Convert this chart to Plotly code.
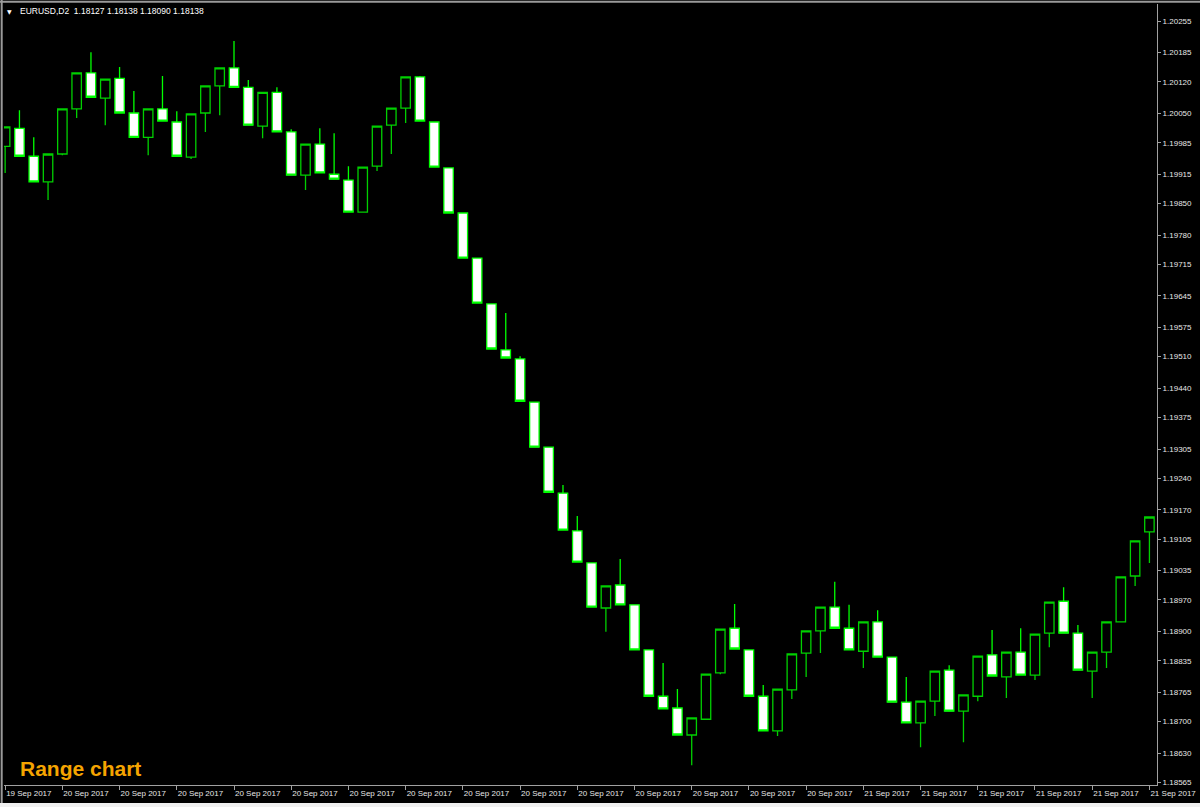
import plotly.graph_objects as go

# range bars (10 pip bricks)
opens = [1.19977, 1.20017, 1.19955, 1.19898, 1.19960, 1.20060, 1.20140, 1.20084, 1.20128, 1.20051,
         1.19997, 1.20060, 1.20031, 1.19953, 1.20051, 1.20111, 1.20151, 1.20108, 1.20022, 1.20097,
         1.20009, 1.19913, 1.19982, 1.19915, 1.19902, 1.19831, 1.19933, 1.20024, 1.20062, 1.20131,
         1.20031, 1.19929, 1.19829, 1.19729, 1.19627, 1.19525, 1.19505, 1.19409, 1.19309, 1.19207,
         1.19123, 1.19052, 1.18952, 1.19003, 1.18959, 1.18859, 1.18756, 1.18730, 1.18670, 1.18705,
         1.18808, 1.18907, 1.18859, 1.18756, 1.18679, 1.18770, 1.18852, 1.18901, 1.18954, 1.18907,
         1.18856, 1.18921, 1.18843, 1.18743, 1.18697, 1.18745, 1.18814, 1.18723, 1.18756, 1.18848,
         1.18799, 1.18854, 1.18803, 1.18896, 1.18967, 1.18896, 1.18812, 1.18854, 1.18921, 1.19023,
         1.19121]

highs = [1.20020, 1.20057, 1.19997, 1.19960, 1.20060, 1.20140, 1.20186, 1.20126, 1.20153, 1.20100,
         1.20060, 1.20133, 1.20055, 1.20049, 1.20111, 1.20151, 1.20211, 1.20124, 1.20097, 1.20108,
         1.20015, 1.19982, 1.20017, 1.20006, 1.19933, 1.19931, 1.20022, 1.20062, 1.20131, 1.20133,
         1.20031, 1.19929, 1.19829, 1.19729, 1.19627, 1.19607, 1.19511, 1.19409, 1.19309, 1.19225,
         1.19156, 1.19052, 1.19001, 1.19061, 1.18959, 1.18859, 1.18830, 1.18772, 1.18708, 1.18805,
         1.18905, 1.18961, 1.18859, 1.18781, 1.18772, 1.18850, 1.18901, 1.18954, 1.19010, 1.18959,
         1.18921, 1.18947, 1.18843, 1.18799, 1.18745, 1.18812, 1.18825, 1.18759, 1.18845, 1.18903,
         1.18854, 1.18907, 1.18894, 1.18965, 1.18998, 1.18914, 1.18854, 1.18921, 1.19021, 1.19101,
         1.19154]

lows = [1.19918, 1.19955, 1.19898, 1.19858, 1.19957, 1.20040, 1.20086, 1.20024, 1.20051, 1.19997,
        1.19957, 1.20033, 1.19955, 1.19949, 1.20009, 1.20046, 1.20108, 1.20024, 1.19995, 1.20009,
        1.19913, 1.19880, 1.19918, 1.19904, 1.19831, 1.19831, 1.19922, 1.19960, 1.20029, 1.20033,
        1.19931, 1.19829, 1.19729, 1.19629, 1.19527, 1.19507, 1.19411, 1.19309, 1.19209, 1.19125,
        1.19054, 1.18954, 1.18899, 1.18959, 1.18859, 1.18756, 1.18728, 1.18670, 1.18603, 1.18705,
        1.18805, 1.18861, 1.18756, 1.18679, 1.18668, 1.18750, 1.18799, 1.18852, 1.18907, 1.18859,
        1.18819, 1.18843, 1.18743, 1.18697, 1.18643, 1.18712, 1.18723, 1.18654, 1.18745, 1.18801,
        1.18752, 1.18803, 1.18792, 1.18865, 1.18896, 1.18814, 1.18752, 1.18819, 1.18921, 1.19001,
        1.19052]

closes = [1.20020, 1.19955, 1.19898, 1.19960, 1.20060, 1.20140, 1.20086, 1.20126, 1.20051, 1.19997,
          1.20060, 1.20033, 1.19955, 1.20049, 1.20111, 1.20151, 1.20108, 1.20024, 1.20097, 1.20009,
          1.19913, 1.19982, 1.19918, 1.19904, 1.19831, 1.19931, 1.20022, 1.20062, 1.20131, 1.20033,
          1.19931, 1.19829, 1.19729, 1.19629, 1.19527, 1.19507, 1.19411, 1.19309, 1.19209, 1.19125,
          1.19054, 1.18954, 1.19001, 1.18959, 1.18859, 1.18756, 1.18728, 1.18670, 1.18708, 1.18805,
          1.18905, 1.18861, 1.18756, 1.18679, 1.18772, 1.18850, 1.18901, 1.18954, 1.18907, 1.18859,
          1.18921, 1.18843, 1.18743, 1.18697, 1.18745, 1.18812, 1.18723, 1.18759, 1.18845, 1.18801,
          1.18854, 1.18803, 1.18894, 1.18965, 1.18896, 1.18814, 1.18854, 1.18921, 1.19021, 1.19101,
          1.19154]

# time labels, one every 4 bars
date_labels = ["19 Sep 2017"] + ["20 Sep 2017"] * 14 + ["21 Sep 2017"] * 6

price_labels = ["1.20255", "1.20185", "1.20120", "1.20050", "1.19985", "1.19915", "1.19850",
                "1.19780", "1.19715", "1.19645", "1.19575", "1.19510", "1.19440", "1.19375",
                "1.19305", "1.19240", "1.19170", "1.19105", "1.19035", "1.18970", "1.18900",
                "1.18835", "1.18765", "1.18700", "1.18630", "1.18565"]

bars = list(range(len(opens)))

fig = go.Figure()
fig.add_trace(go.Candlestick(
    x=bars, open=opens, high=highs, low=lows, close=closes,
    increasing=dict(line=dict(color="#00d000", width=1.3), fillcolor="#000000"),
    decreasing=dict(line=dict(color="#00ff00", width=1.3), fillcolor="#ffffff"),
    whiskerwidth=0,
    showlegend=False,
))

axis_font = dict(family="Liberation Sans, Arial, sans-serif", size=8, color="#e6e6e6")

fig.update_layout(
    width=1200, height=807,
    margin=dict(l=4, r=40, t=4, b=22),
    paper_bgcolor="#000000",
    plot_bgcolor="#000000",
    boxgap=0.34,
    boxgroupgap=0,
    xaxis=dict(
        range=[-0.08, 80.53],
        rangeslider=dict(visible=False),
        tickvals=bars[::4], ticktext=date_labels,
        ticks="outside", ticklen=4, tickcolor="#a0a0a0",
        ticklabelposition="outside right",
        showgrid=False, zeroline=False,
        showline=True, linecolor="#a0a0a0", linewidth=1,
        tickfont=axis_font,
    ),
    yaxis=dict(
        side="right",
        range=[1.18559, 1.20293],
        tickvals=[float(p) for p in price_labels], ticktext=price_labels,
        ticks="outside", ticklen=3, tickcolor="#a0a0a0",
        showgrid=False, zeroline=False,
        showline=True, linecolor="#a0a0a0", linewidth=1,
        tickfont=axis_font,
    ),
    font=axis_font,
)

# header, symbol and last bar prices
fig.add_annotation(
    text="\u25BC", xref="paper", yref="paper", x=0.0052, y=0.991,
    xanchor="center", yanchor="middle", showarrow=False,
    font=dict(family="DejaVu Sans", size=6, color="#ffffff"),
)
fig.add_annotation(
    text="EURUSD,D2\u00a0\u00a01.18127 1.18138 1.18090 1.18138",
    xref="paper", yref="paper", x=0.0121, y=0.991,
    xanchor="left", yanchor="middle", showarrow=False,
    font=dict(family="Liberation Sans, Arial, sans-serif", size=8.5, color="#ffffff"),
)
fig.add_annotation(
    text="<b>Range chart</b>", xref="paper", yref="paper", x=0.0125, y=0.0205,
    xanchor="left", yanchor="middle", showarrow=False,
    font=dict(family="Liberation Sans, Arial, sans-serif", size=21, color="#f5a400"),
)

# window frame
fig.add_shape(type="line", xref="paper", yref="paper", x0=-0.002, x1=-0.002, y0=-0.03, y1=1.01,
              line=dict(color="#9a9a9a", width=2))
fig.add_shape(type="line", xref="paper", yref="paper", x0=-0.01, x1=1.04, y0=1.003, y1=1.003,
              line=dict(color="#9a9a9a", width=2))
fig.add_shape(type="rect", xref="paper", yref="paper", x0=-0.01, x1=1.04, y0=-0.03, y1=-0.023,
              fillcolor="#f0f0f0", line=dict(width=0))

fig.write_html(
    "out.html",
    config={"displayModeBar": False},
    post_script="document.body.style.margin='0';document.body.style.overflow='hidden';",
)
